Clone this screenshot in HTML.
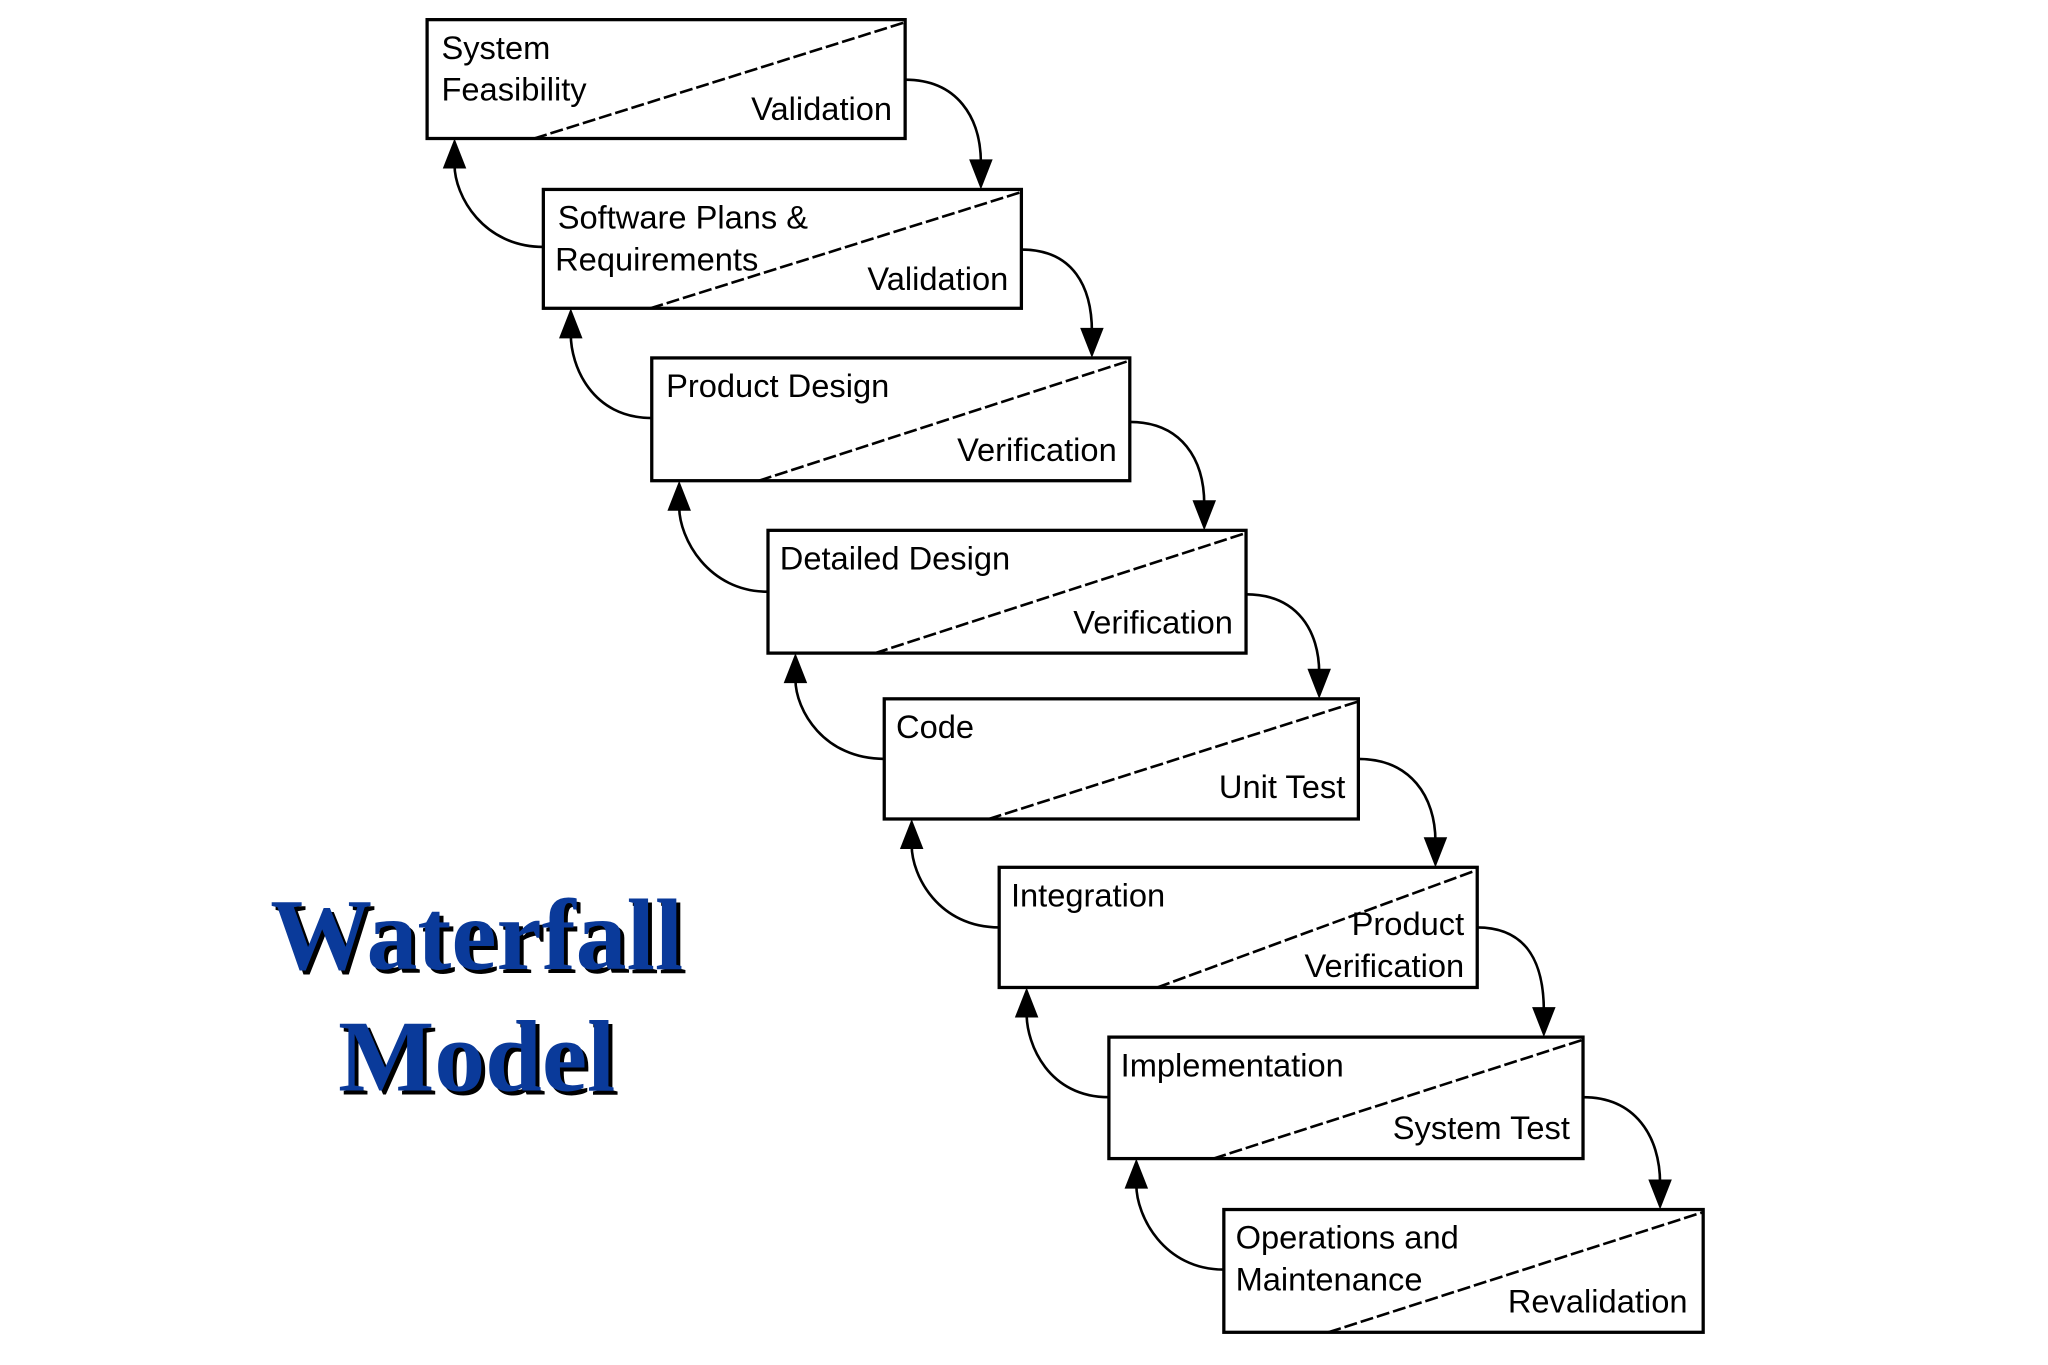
<!DOCTYPE html>
<html><head><meta charset="utf-8"><style>
html,body{margin:0;padding:0;background:#fff;}
svg{display:block;}
.b{fill:#fff;stroke:#000;stroke-width:2.5;}
.d{stroke:#000;stroke-width:2;stroke-dasharray:10 3;fill:none;}
.c{stroke:#000;stroke-width:2;fill:none;}
.t{font-family:"Liberation Sans",sans-serif;font-size:25px;fill:#000;}
.r{text-anchor:end;}
.ttl{font-family:"Liberation Serif",serif;font-weight:bold;font-size:78px;text-anchor:middle;}
</style></head><body>
<svg width="2048" height="1365" viewBox="0 0 1568 1045" xmlns="http://www.w3.org/2000/svg">
<rect width="1568" height="1045" fill="#fff"/>
<!-- Title -->
<g class="ttl">
<text x="368" y="745" fill="#000">Waterfall</text>
<text x="368" y="838" fill="#000">Model</text>
<text x="365" y="742" fill="#0a3a9a">Waterfall</text>
<text x="365" y="835" fill="#0a3a9a">Model</text>
</g>
<!-- forward arrows -->
<g class="c">
<path d="M693,61 C733,61 751,90 751,125"/>
<path d="M782,191 C822,191 836,220 836,254"/>
<path d="M865,323 C905,323 922,352 922,386"/>
<path d="M954,455 C994,455 1010,484 1010,515"/>
<path d="M1040,581 C1080,581 1099,610 1099,644"/>
<path d="M1131,710 C1171,710 1182,740 1182,774"/>
<path d="M1212,840 C1252,840 1271,870 1271,906"/>
<path d="M416,189 C370,189 348,150 348,126"/>
<path d="M499,320 C453,320 437,280 437,256"/>
<path d="M588,453 C542,453 520,412 520,388"/>
<path d="M677,581 C631,581 609,544 609,520"/>
<path d="M765,710 C719,710 698,671 698,647"/>
<path d="M849,840 C803,840 786,800 786,776"/>
<path d="M937,972 C891,972 870,931 870,907"/>
</g>
<g fill="#000">
<polygon points="751,145 742,122 760,122"/>
<polygon points="836,274 827,251 845,251"/>
<polygon points="922,406 913,383 931,383"/>
<polygon points="1010,535 1001,512 1019,512"/>
<polygon points="1099,664 1090,641 1108,641"/>
<polygon points="1182,794 1173,771 1191,771"/>
<polygon points="1271,926 1262,903 1280,903"/>
<polygon points="348,106 339,129 357,129"/>
<polygon points="437,236 428,259 446,259"/>
<polygon points="520,368 511,391 529,391"/>
<polygon points="609,500 600,523 618,523"/>
<polygon points="698,627 689,650 707,650"/>
<polygon points="786,756 777,779 795,779"/>
<polygon points="870,887 861,910 879,910"/>
</g>
<!-- boxes -->
<rect class="b" x="327" y="15" width="366" height="91"/>
<line class="d" x1="409" y1="106" x2="693" y2="17"/>
<text class="t" x="338" y="45">System</text>
<text class="t" x="338" y="77">Feasibility</text>
<text class="t r" x="683" y="92">Validation</text>

<rect class="b" x="416" y="145" width="366" height="91"/>
<line class="d" x1="498" y1="236" x2="782" y2="147"/>
<text class="t" x="427" y="175">Software Plans &amp;</text>
<text class="t" x="425" y="207">Requirements</text>
<text class="t r" x="772" y="222">Validation</text>

<rect class="b" x="499" y="274" width="366" height="94"/>
<line class="d" x1="581" y1="368" x2="865" y2="276"/>
<text class="t" x="510" y="304">Product Design</text>
<text class="t r" x="855" y="353">Verification</text>

<rect class="b" x="588" y="406" width="366" height="94"/>
<line class="d" x1="670" y1="500" x2="954" y2="408"/>
<text class="t" x="597" y="436">Detailed Design</text>
<text class="t r" x="944" y="485">Verification</text>

<rect class="b" x="677" y="535" width="363" height="92"/>
<line class="d" x1="757" y1="627" x2="1040" y2="537"/>
<text class="t" x="686" y="565">Code</text>
<text class="t r" x="1030" y="611">Unit Test</text>

<rect class="b" x="765" y="664" width="366" height="92"/>
<line class="d" x1="886" y1="756" x2="1131" y2="666"/>
<text class="t" x="774" y="694">Integration</text>
<text class="t r" x="1121" y="716">Product</text>
<text class="t r" x="1121" y="748">Verification</text>

<rect class="b" x="849" y="794" width="363" height="93"/>
<line class="d" x1="929" y1="887" x2="1212" y2="796"/>
<text class="t" x="858" y="824">Implementation</text>
<text class="t r" x="1202" y="872">System Test</text>

<rect class="b" x="937" y="926" width="367" height="94"/>
<line class="d" x1="1017" y1="1020" x2="1304" y2="928"/>
<text class="t" x="946" y="956">Operations and</text>
<text class="t" x="946" y="988">Maintenance</text>
<text class="t r" x="1292" y="1005">Revalidation</text>
</svg>
</body></html>
